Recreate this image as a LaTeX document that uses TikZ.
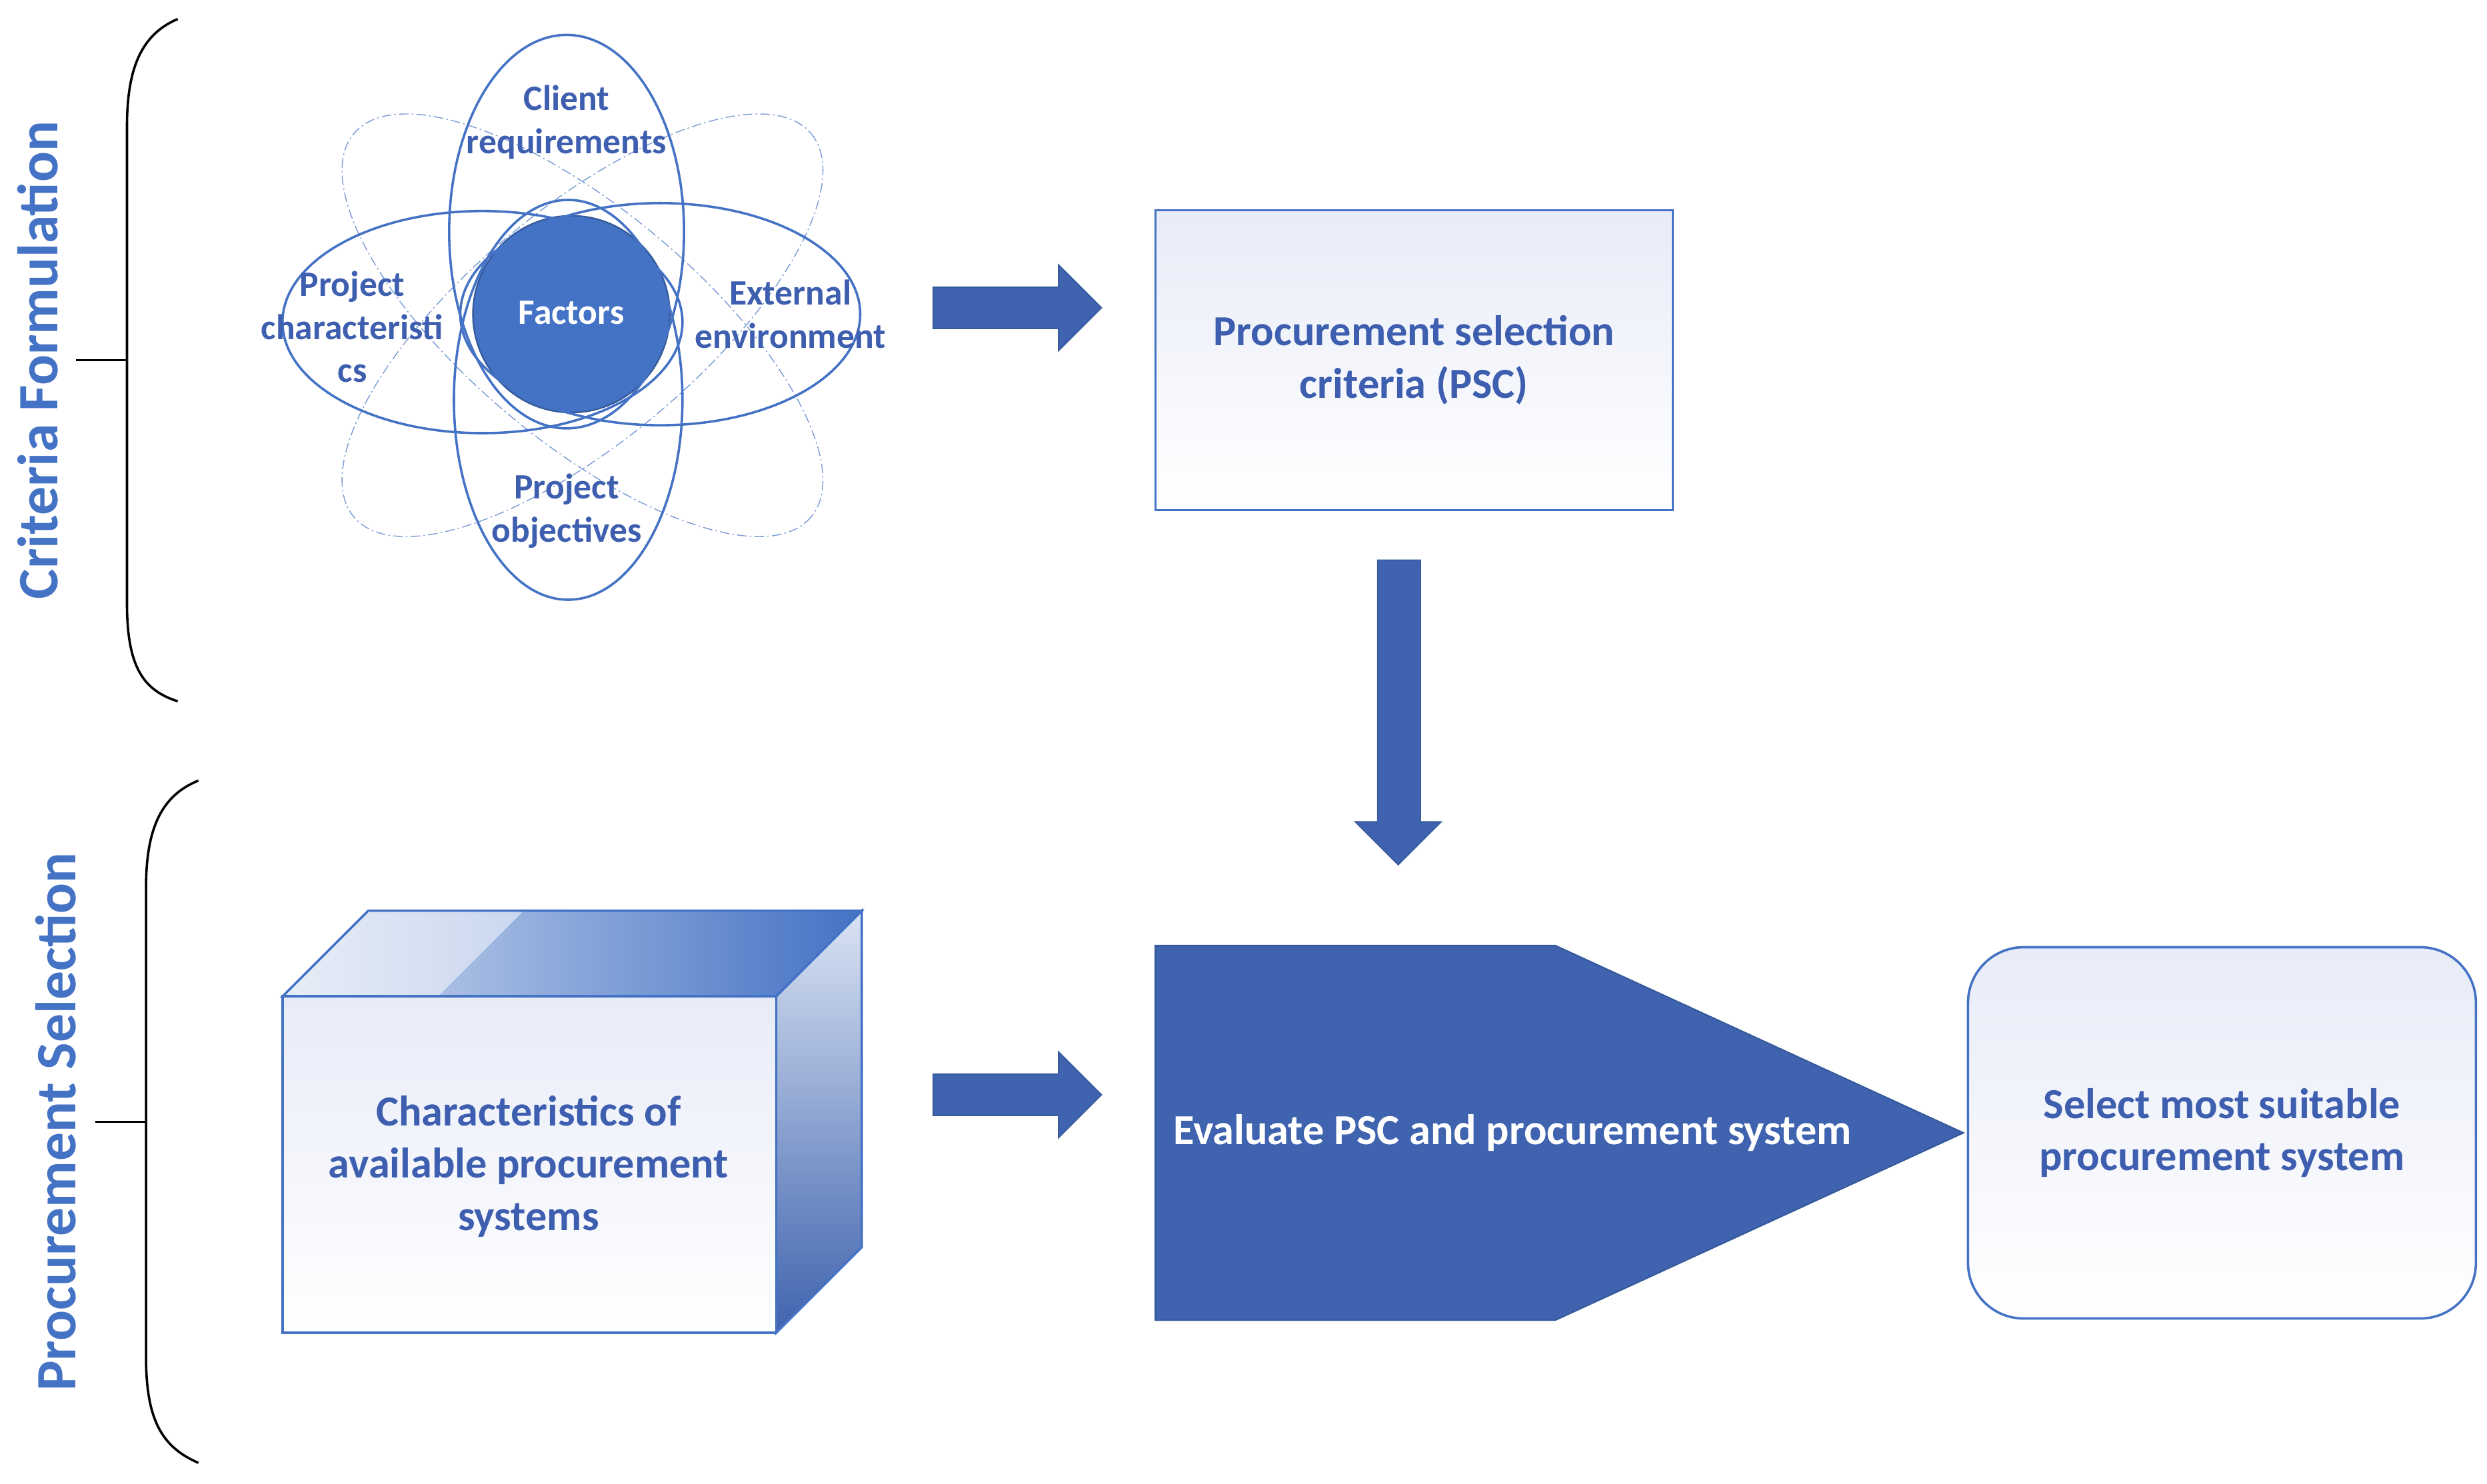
\documentclass[tikz,border=0pt]{standalone}
\usepackage{fontspec}
\setmainfont{Carlito}
\usetikzlibrary{shapes.arrows}
\definecolor{bl}{RGB}{68,114,196}
\definecolor{dk}{RGB}{63,99,174}
\definecolor{tx}{RGB}{62,95,175}
\definecolor{pale}{RGB}{232,236,248}
\tikzset{
 lbl/.style={text=tx,font=\bfseries\fontsize{22.5}{27}\selectfont,align=center},
 big/.style={text=tx,font=\bfseries\fontsize{27}{33}\selectfont,align=center},
 side/.style={text=bl,font=\bfseries\fontsize{36}{40}\selectfont,rotate=90},
 ell/.style={draw=bl,line width=1.5pt},
 dell/.style={draw=bl!70,dash pattern=on 6pt off 2pt on 1pt off 2pt,line width=0.6pt},
 barr/.style={fill=dk,draw=bl!80!black,line width=0.8pt},
 gbox/.style={draw=bl,line width=1.5pt,top color=pale,bottom color=white}
}
\begin{document}
\begin{tikzpicture}[x=1pt,y=-1pt]
\useasboundingbox (0,0) rectangle (1567,935);
% braces
\draw[line width=1.5pt] (112,12) .. controls (88,22) and (80,45) .. (80,80) -- (80,380) .. controls (80,420) and (90,435) .. (112,442);
\draw[line width=1.5pt] (48,227) -- (80,227);
\draw[line width=1.5pt] (125,492) .. controls (100,502) and (92,525) .. (92,560) -- (92,855) .. controls (92,895) and (102,912) .. (125,922);
\draw[line width=1.5pt] (60,707) -- (92,707);
\node[side] (t1) at (24,227) {Criteria Formulation};
\node[side] (t2) at (35,707) {Procurement Selection};
% ellipses
\draw[dell,rotate around={40:(367,205)}] (367,205) ellipse (188 and 73);
\draw[dell,rotate around={-40:(367,205)}] (367,205) ellipse (188 and 73);
\fill[bl] (360,198) circle (62);
\draw[bl!80!black,line width=1pt] (360,198) circle (62);
\draw[ell] (357,146) ellipse (74 and 124);
\draw[ell] (358,252) ellipse (72 and 126);
\draw[ell] (304,203) ellipse (126 and 70);
\draw[ell] (416,198) ellipse (126 and 70);
\node[text=white,font=\bfseries\fontsize{22.5}{26}\selectfont] (f) at (360,197) {Factors};
\node[lbl] (c) at (357,77) {Client\\requirements};
\node[lbl] (p) at (222,206) {Project\\characteristi\\cs};
\node[lbl] (e) at (498,198) {External\\environment};
\node[lbl] (o) at (357,322) {Project\\objectives};
% PSC
\node[gbox,minimum width=326,minimum height=189,inner sep=0] (psc) at (891,227) {};
\node[big] (psct) at (891,227) {Procurement selection\\criteria (PSC)};
\draw[barr] (588,181) -- (667,181) -- (667,167) -- (694,194) -- (667,221) -- (667,207) -- (588,207) -- cycle;
\draw[barr] (868,353) -- (895,353) -- (895,518) -- (908,518) -- (881,545) -- (854,518) -- (868,518) -- cycle;
% cube
\shade[left color=bl!25,right color=bl] (178,628) -- (232,574) -- (543,574) -- (489,628) -- cycle;
\fill[white,opacity=0.5] (178,628) -- (232,574) -- (330,574) -- (276,628) -- cycle;
\draw[bl,line width=1.5pt] (178,628) -- (232,574) -- (543,574) -- (489,628) -- cycle;
\shade[top color=bl!20,bottom color=dk] (489,628) -- (543,574) -- (543,786) -- (489,840) -- cycle;
\draw[bl,line width=1.5pt] (489,628) -- (543,574) -- (543,786) -- (489,840) -- cycle;
\node[gbox,minimum width=311,minimum height=212,inner sep=0] (cube) at (333.5,734) {};
\node[big] (cubet) at (333,735) {Characteristics of\\available procurement\\systems};
\draw[barr] (588,677) -- (667,677) -- (667,663) -- (694,690) -- (667,717) -- (667,703) -- (588,703) -- cycle;
% pentagon
\draw[fill=dk,draw=bl!80!black,line width=1pt] (728,596) -- (980,596) -- (1237,714) -- (980,832) -- (728,832) -- cycle;
\node[text=white,font=\bfseries\fontsize{27}{32}\selectfont] (ev) at (953,714) {Evaluate PSC and procurement system};
% select
\node[gbox,rounded corners=35,minimum width=320,minimum height=234,inner sep=0] (sel) at (1400,714) {};
\node[big] (selt) at (1400,714) {Select most suitable\\procurement system};
\end{tikzpicture}
\end{document}
